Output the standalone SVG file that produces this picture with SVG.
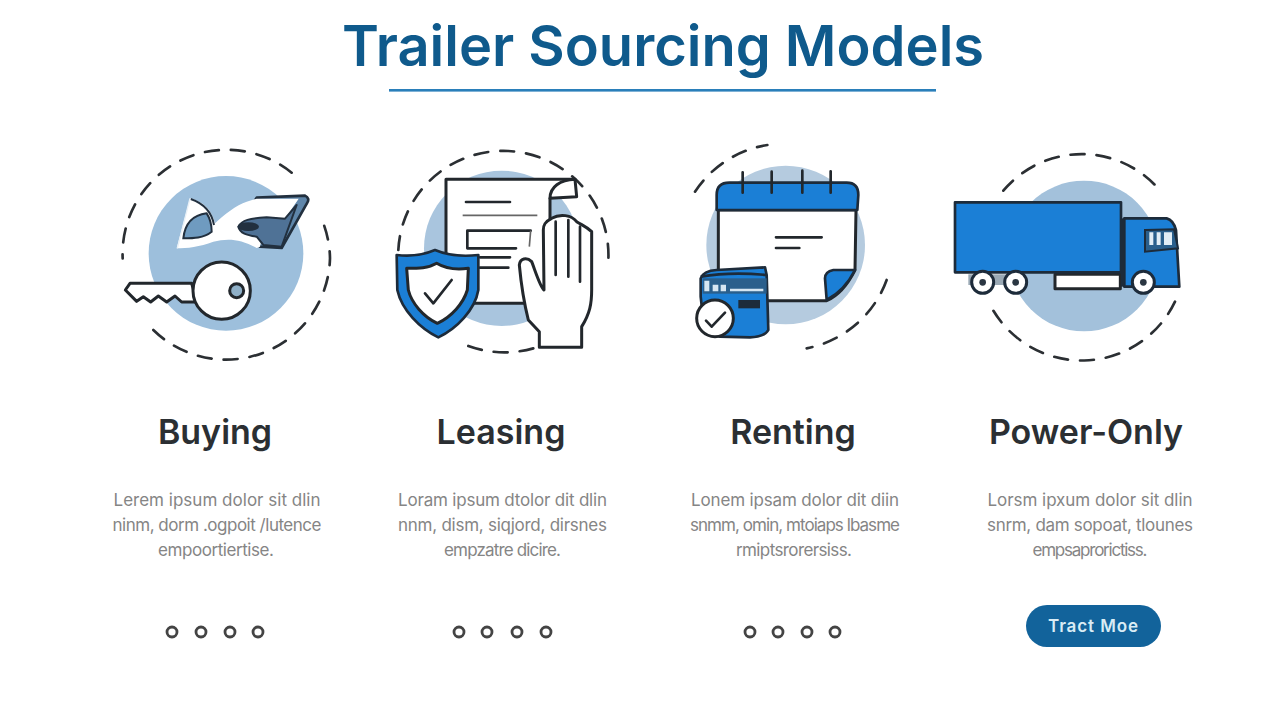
<svg xmlns="http://www.w3.org/2000/svg" width="1280" height="720" viewBox="0 0 1280 720">
<style>
text{font-family:Inter,"Liberation Sans",sans-serif;text-anchor:middle}
.title{font-size:56px;font-weight:600;fill:#0f5a8c}
.head{font-size:34px;font-weight:600;fill:#2b2f33}
.body{font-size:17px;fill:#858585}
.dash{fill:none;stroke:#2b2f33;stroke-width:8;stroke-dasharray:42 36;stroke-linecap:round}
.ln{fill:none;stroke:#22272c;stroke-width:8;stroke-linecap:round;stroke-linejoin:round}
.wh{fill:#fff;stroke:#22272c;stroke-width:9;stroke-linejoin:round}
.bl{fill:#1b7fd6;stroke:#1d2b3a;stroke-width:8;stroke-linejoin:round}
.dot{fill:#fff;stroke:#444;stroke-width:2.8}
</style>
<rect width="1280" height="720" fill="#fff"/>
<text class="title" x="663" y="66">Trailer Sourcing Models</text>
<rect x="389" y="89" width="547" height="2.6" fill="#2a7fba"/>

<g id="buying">
<g transform="translate(100,130) scale(.33333)">
<circle cx="378" cy="370" r="232" fill="#9dbfdc"/>
<path class="dash" d="M575,128 A312,312 0 0 0 68,385"/>
<path class="dash" d="M160,600 A312,312 0 0 0 690,385 A312,312 0 0 0 670,280"/>
<path d="M470,203 L615,197 Q630,205 622,218 L545,354 L480,350 L410,290 Z" fill="#5f86aa" stroke="#22303f" stroke-width="8" stroke-linejoin="round"/>
<path d="M270,205 C310,215 335,240 345,280 C370,255 410,225 440,215 L470,206 L596,206 L555,266 L500,264 L480,350 L470,354 C420,325 380,325 340,335 C300,350 260,355 230,355 Z" fill="#fff"/>
<path d="M250,325 C255,280 280,255 320,250 C330,265 335,290 335,305 C310,325 280,325 250,325 Z" fill="#6f9bc0" stroke="#22303f" stroke-width="6"/>
<path d="M272,207 C310,220 335,245 342,285" fill="none" stroke="#22303f" stroke-width="6"/>
<path d="M415,290 C425,270 450,265 500,262 L555,266 L590,225 L545,350 L490,345 L470,320 C440,315 420,310 415,290 Z" fill="#4f7296" stroke="#22303f" stroke-width="6" stroke-linejoin="round"/>
<ellipse cx="445" cy="290" rx="32" ry="13" fill="#22303f"/>
<path d="M270,205 L232,355" fill="none" stroke="#e8f0f6" stroke-width="4"/>
<path class="wh" d="M275,460 L90,460 L76,480 L110,514 L130,500 L152,516 L175,498 L200,516 L225,498 L245,516 L290,516 Z"/>
<circle class="wh" cx="365" cy="482" r="86"/>
<circle cx="410" cy="482" r="21" fill="#8fb0c8" stroke="#22272c" stroke-width="9"/>
</g>
<text class="head" x="215" y="444">Buying</text>
<text class="body" x="217" y="506" textLength="207">Lerem ipsum dolor sit dlin</text>
<text class="body" x="217" y="531" textLength="209">ninm, dorm .ogpoit /lutence</text>
<text class="body" x="216" y="556" textLength="116">empoortiertise.</text>
<circle class="dot" cx="172" cy="632" r="5"/><circle class="dot" cx="201" cy="632" r="5"/><circle class="dot" cx="230" cy="632" r="5"/><circle class="dot" cx="258" cy="632" r="5"/>
</g>

<g id="leasing">
<g transform="translate(380,130) scale(.33333)">
<circle cx="365" cy="355" r="233" fill="#a9c5de"/>
<path class="dash" d="M55,360 A315,312 0 0 1 685,390"/>
<path class="dash" d="M265,648 A315,312 0 0 0 460,655"/>
<path class="wh" d="M198,148 L585,148 L510,205 L510,520 L198,520 Z"/>
<path class="wh" d="M510,205 C510,170 540,150 585,148 L590,200 Z"/>
<path class="ln" d="M258,216 L390,216 M300,382 L390,382 M300,413 L385,413 M408,355 L262,355 L262,302 L452,302" stroke-width="7"/>
<path d="M248,256 L472,256 M452,302 L448,350" fill="none" stroke="#666" stroke-width="5"/>
<path class="bl" d="M50,375 C90,380 130,375 165,360 C200,375 250,380 295,375 L295,480 C285,540 230,595 175,622 C120,595 65,540 52,480 Z"/>
<path class="wh" stroke-width="7" d="M80,415 C115,415 145,415 170,400 C195,415 230,420 265,415 L262,480 C250,520 215,560 172,580 C130,560 95,520 85,480 Z"/>
<path class="ln" d="M135,490 L160,520 L215,450" stroke-width="11"/>
<path class="wh" d="M478,652 L605,652 L605,590 C630,550 635,520 635,480 L635,305 C620,290 605,285 590,275 C575,255 540,250 515,265 C495,275 490,285 490,300 L492,480 C480,470 465,420 455,395 C440,380 420,385 418,405 C425,480 440,550 445,570 L478,605 Z"/>
<path class="ln" d="M527,275 L527,435 M565,270 L565,440 M600,290 L600,455"/>
</g>
<text class="head" x="501" y="444">Leasing</text>
<text class="body" x="502.500" y="506" textLength="209">Loram ipsum dtolor dit dlin</text>
<text class="body" x="502.500" y="531" textLength="209">nnm, dism, siqjord, dirsnes</text>
<text class="body" x="502.500" y="556" textLength="117">empzatre dicire.</text>
<circle class="dot" cx="459" cy="632" r="5"/><circle class="dot" cx="487" cy="632" r="5"/><circle class="dot" cx="517" cy="632" r="5"/><circle class="dot" cx="546" cy="632" r="5"/>
</g>

<g id="renting">
<g transform="translate(670,130) scale(.33333)">
<circle cx="347" cy="345" r="238" fill="#b5cbdf"/>
<path class="dash" d="M75,185 A320,320 0 0 1 292,45"/>
<path class="dash" d="M650,450 A320,320 0 0 1 410,655"/>
<path class="wh" d="M145,240 L145,512 L470,512 Q520,490 555,420 L558,240 Z"/>
<path class="bl" stroke-width="9" d="M140,240 L140,195 Q140,158 178,158 L530,158 Q565,158 565,195 L562,240 Z"/>
<path class="bl" d="M555,420 L490,420 Q465,425 465,445 L470,510 Q525,480 555,420 Z"/>
<path class="ln" stroke-width="9" d="M218,127 L218,188 M305,125 L305,188 M397,122 L397,188 M482,124 L482,188 M318,322 L455,322 M318,354 L388,354"/>
<path class="bl" d="M92,500 L92,445 Q100,422 140,420 L285,412 L290,435 L295,600 Q285,620 240,622 L150,620 Q100,600 92,500 Z"/>
<rect x="98" y="445" width="192" height="46" fill="#2a5f8c"/>
<path d="M103,452 H118 V484 H103 Z M128,464 H145 V484 H128 Z M152,464 H168 V484 H152 Z M180,476 H280 V484 H180 Z" fill="#d6e6f2"/>
<path d="M92,440 Q180,425 290,435" fill="none" stroke="#1d2b3a" stroke-width="8"/>
<rect x="205" y="510" width="65" height="25" fill="#1d2b3a"/>
<circle class="wh" cx="135" cy="565" r="55"/>
<path class="ln" d="M108,572 L125,590 L165,548" stroke-width="10"/>
</g>
<text class="head" x="793" y="444">Renting</text>
<text class="body" x="795" y="506" textLength="208">Lonem ipsam dolor dit diin</text>
<text class="body" x="795" y="531" textLength="210">snmm, omin, mtoiaps lbasme</text>
<text class="body" x="794" y="556" textLength="116">rmiptsrorersiss.</text>
<circle class="dot" cx="750" cy="632" r="5"/><circle class="dot" cx="778" cy="632" r="5"/><circle class="dot" cx="807" cy="632" r="5"/><circle class="dot" cx="835" cy="632" r="5"/>
</g>

<g id="power-only">
<g transform="translate(940,140) scale(.33333)">
<circle cx="432" cy="348" r="226" fill="#a3c1db"/>
<path class="dash" d="M190,152 A307,307 0 0 1 645,135"/>
<path class="dash" d="M705,485 A310,310 0 0 1 152,498"/>
<rect x="85" y="403" width="120" height="32" fill="#9aa9b5"/>
<rect class="wh" x="345" y="403" width="196" height="43"/>
<rect class="bl" x="45" y="187" width="498" height="210"/>
<path class="bl" d="M553,235 L680,235 Q700,240 708,270 L718,440 L553,440 Z"/>
<path d="M615,270 L702,268 L714,325 L615,335 Z" fill="#2a5f8c" stroke="#1d2b3a" stroke-width="6"/>
<path d="M628,277 H640 V315 H628 Z M650,277 H662 V315 H650 Z M672,277 H696 V315 H672 Z" fill="#e2edf5"/>
<rect x="543" y="235" width="11" height="205" fill="#1d2b3a"/>
<g fill="#fff" stroke="#1d2b3a" stroke-width="9"><circle cx="128" cy="427" r="33"/><circle cx="227" cy="427" r="33"/><circle cx="610" cy="427" r="33"/></g>
<g fill="#2a3642"><circle cx="128" cy="427" r="10"/><circle cx="227" cy="427" r="10"/><circle cx="610" cy="427" r="10"/></g>
</g>
<text class="head" x="1086" y="444">Power-Only</text>
<text class="body" x="1090" y="506" textLength="205">Lorsm ipxum dolor sit dlin</text>
<text class="body" x="1090" y="531" textLength="206">snrm, dam  sopoat, tlounes</text>
<text class="body" x="1090" y="556" textLength="115">empsaprorictiss.</text>
<rect x="1026" y="605" width="135" height="42" rx="21" fill="#12639b"/>
<text x="1093" y="632" font-size="17" font-weight="600" fill="#d9ecf5" textLength="90">Tract Moe</text>
</g>
</svg>
